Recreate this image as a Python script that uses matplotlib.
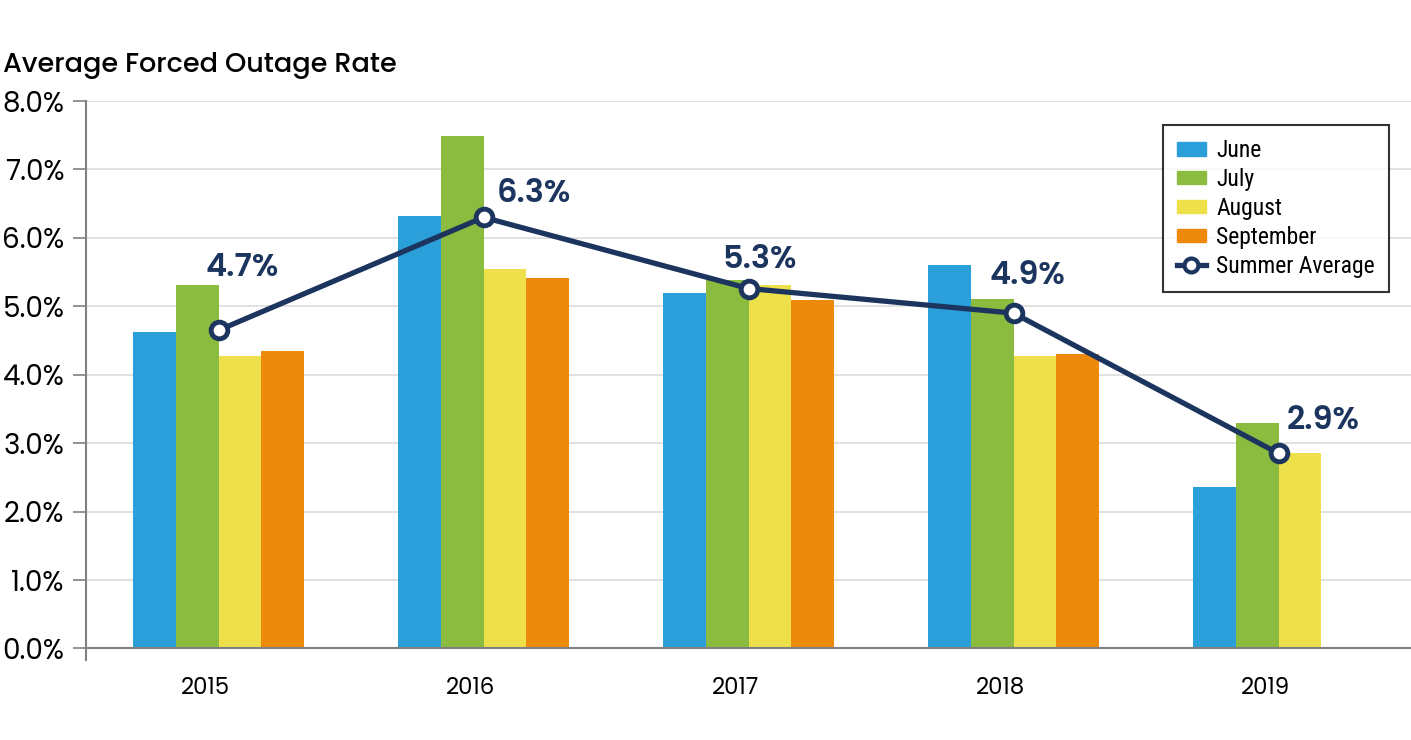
import numpy as np
import matplotlib
matplotlib.use("Agg")
import matplotlib.pyplot as plt
import matplotlib.transforms as mtransforms
from matplotlib.patches import Patch
from matplotlib.lines import Line2D

years = ["2015", "2016", "2017", "2018", "2019"]
june = [4.62, 6.32, 5.20, 5.60, 2.36]
july = [5.31, 7.49, 5.38, 5.10, 3.29]
august = [4.28, 5.54, 5.31, 4.28, 2.85]
september = [4.34, 5.41, 5.09, 4.31, np.nan]
summer_avg = [4.65, 6.30, 5.26, 4.90, 2.85]
avg_labels = ["4.7%", "6.3%", "5.3%", "4.9%", "2.9%"]

months = ["June", "July", "August", "September"]
colors = ["#2a9fd9", "#8bbb3f", "#ede04b", "#ee8a0b"]
navy = "#1c355e"

plt.rcParams['font.family'] = ['Poppins', 'Lato', 'DejaVu Sans']

fig = plt.figure(figsize=(14.11, 7.40), dpi=100)
ax = fig.add_axes([0.061, 0.108, 0.939, 0.7555])

x = np.arange(len(years))
w = 0.161
for i, (vals, c) in enumerate(zip([june, july, august, september], colors)):
    ax.bar(x + (i - 1.5) * w, vals, width=w, color=c, zorder=2)

ax.plot(x, summer_avg, color=navy, lw=3.8, marker='o', ms=12,
        mfc='white', mec=navy, mew=3.5, zorder=4)

offsets = [(24, 62), (50, 23), (11, 29), (14, 37), (45, 32)]
for xi, yi, lab, (dx, dy) in zip(x, summer_avg, avg_labels, offsets):
    ax.annotate(lab, (xi, yi), xytext=(dx, dy), textcoords='offset pixels',
                ha='center', va='center', fontsize=23, fontweight='semibold',
                color=navy, zorder=5)

ax.set_xlim(-0.5, 4.5)
ax.set_ylim(-0.17, 8)
ax.set_yticks(np.arange(0, 8.01, 1))
ax.set_yticklabels([f"{v:.1f}%" for v in np.arange(0, 8.01, 1)], fontsize=20)
ax.set_xticks(x)
ax.set_xticklabels(years, fontsize=16.5)
ax.tick_params(axis='x', length=0, pad=12)
ax.tick_params(axis='y', length=9.5, width=1.2, color='#808080', pad=6)
offset = mtransforms.ScaledTranslation(-13 / 100, 0, fig.dpi_scale_trans)
for lab in ax.get_xticklabels():
    lab.set_transform(lab.get_transform() + offset)

ax.grid(axis='y', color='#dcdcdc', lw=1.2, zorder=0)
ax.axhline(0, color='#808080', lw=1.5, zorder=3)
for s in ['top', 'right', 'bottom']:
    ax.spines[s].set_visible(False)
ax.spines['left'].set_color('#808080')
ax.spines['left'].set_linewidth(1.5)

fig.text(0.002, 0.912, "Average Forced Outage Rate", fontsize=19.5,
         fontweight='medium', ha='left', va='center')

handles = [Patch(color=c) for c in colors]
handles.append(Line2D([], [], color=navy, lw=3.8, marker='o', ms=10,
                      mfc='white', mec=navy, mew=3))
leg = ax.legend(handles, months + ["Summer Average"], loc='upper right',
                bbox_to_anchor=(0.9834, 0.957), borderaxespad=0,
                frameon=True, fancybox=False,
                edgecolor='black', handlelength=1.2, handleheight=0.5,
                labelspacing=0.25, borderpad=0.6, handletextpad=0.45,
                prop={'family': ['Roboto Condensed', 'DejaVu Sans'],
                      'size': 17})
leg.get_frame().set_linewidth(1.5)

fig.savefig("out.png", dpi=100)
